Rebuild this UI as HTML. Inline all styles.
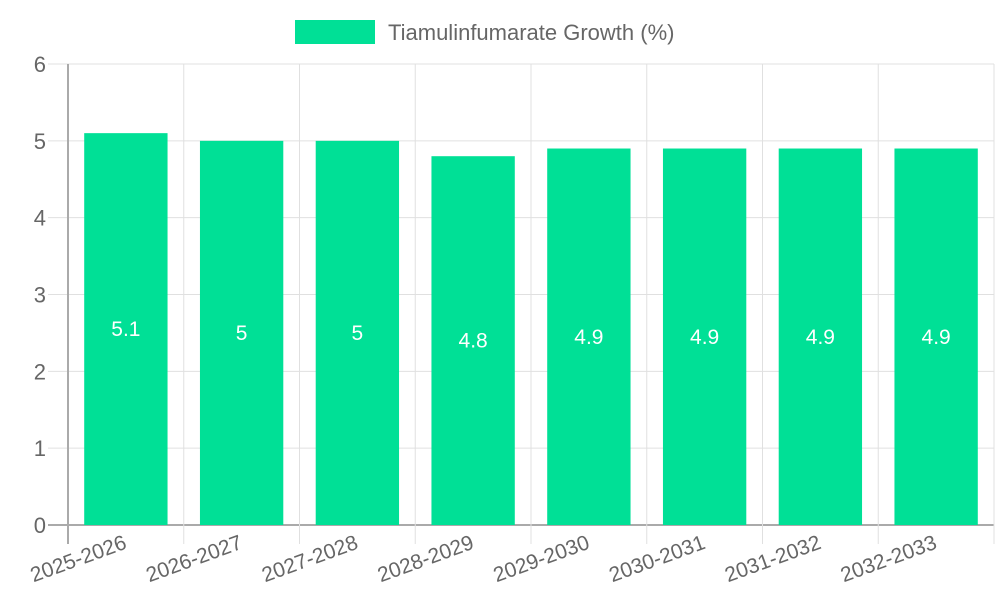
<!DOCTYPE html>
<html><head><meta charset="utf-8"><style>
body{margin:0;background:#fff;}
svg{display:block;font-family:"Liberation Sans",sans-serif;}
</style></head><body>
<svg id="chart" width="1000" height="600">
<g id="legend">
<rect x="295" y="20" width="80" height="24" fill="#00e096"/>
<text x="388" y="40" font-size="22" fill="#666">Tiamulinfumarate Growth (%)</text>
</g>
<g id="grid"></g><g id="bars"></g><g id="labels"></g>
</svg>
<script>
const categories=["2025-2026","2026-2027","2027-2028","2028-2029","2029-2030","2030-2031","2031-2032","2032-2033"];
const values=[5.1,5,5,4.8,4.9,4.9,4.9,4.9];
const yTicks=[0,1,2,3,4,5,6];
const L=68,R=994,T=64,B=525,yMax=6;
const NS="http://www.w3.org/2000/svg";
const bw=(R-L)/categories.length;
const y=v=>B-(B-T)*v/yMax;
const x=i=>L+bw*i;
function mk(t,a,p){const e=document.createElementNS(NS,t);for(const k in a)e.setAttribute(k,a[k]);p.appendChild(e);return e;}
const grid=document.getElementById('grid'),bars=document.getElementById('bars'),labels=document.getElementById('labels');
yTicks.forEach(t=>{
 const l=mk('line',{x1:48,x2:R,y1:y(t),y2:y(t),stroke:t===0?'#aaa':'#e0e0e0','stroke-width':t===0?2:1},grid);
 
 
 const tx=mk('text',{x:46,y:y(t)+8,'text-anchor':'end','font-size':22,fill:'#666'},grid);
 tx.textContent=t;
 
 
});
for(let i=0;i<=categories.length;i++){
 const l=mk('line',{x1:x(i),x2:x(i),y1:T,y2:544,stroke:i===0?'#aaa':'#e0e0e0','stroke-width':i===0?2:1},grid);
 
 
}
categories.forEach((c,i)=>{
 const bx=x(i)+bw*0.14,w=bw*0.72;
 const r=mk('rect',{x:bx,y:y(values[i]),width:w,height:B-y(values[i]),fill:'#00e096'},bars);
 
 
 const v=mk('text',{x:x(i)+bw/2,y:(y(values[i])+B)/2+7,'text-anchor':'middle','font-size':21,fill:'#fff'},labels);
 v.textContent=values[i];
 
 
 const cx=x(i)+bw/2+2,cy=548;
 const t=mk('text',{x:cx,y:cy,'text-anchor':'end','font-size':21,fill:'#666',transform:`rotate(-20 ${cx} ${cy})`},labels);
 t.textContent=c;
 
 
});
</script>
</body></html>
